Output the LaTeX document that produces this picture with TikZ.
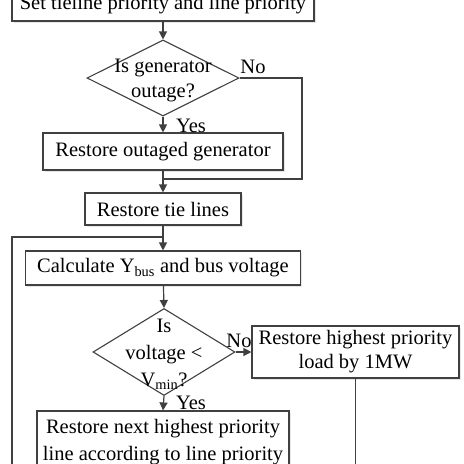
\documentclass[tikz,border=0pt]{standalone}
\usepackage{fontspec}
\setmainfont{Liberation Serif}
\usetikzlibrary{arrows.meta,positioning,calc,shapes.geometric,shadows}
\definecolor{ln}{HTML}{404040}
\tikzset{
  proc/.style={rectangle,draw=ln,line width=1.1pt,fill=white,inner sep=2pt,
               align=center,font=\fontsize{20.5}{26}\selectfont,
               drop shadow={opacity=0.2,shadow xshift=1.5pt,shadow yshift=-1.5pt}},
  dec/.style={diamond,draw=ln,line width=1.1pt,fill=white,inner sep=0pt},
  dtext/.style={align=center,font=\fontsize{20.5}{25}\selectfont,inner sep=0pt},
  lbl/.style={font=\fontsize{20.5}{25}\selectfont,inner sep=0pt},
  flow/.style={draw=ln,line width=1.2pt,-{Triangle[length=8pt,width=8pt]}},
  wire/.style={draw=ln,line width=1.2pt},
  every picture/.style={line cap=butt,line join=miter}}

\begin{document}
\begin{tikzpicture}[x=1pt,y=-1pt]
  \useasboundingbox (0,0) rectangle (464,464);
  % boxes and decisions
  \node[proc,minimum width=302pt,minimum height=33pt] (prio) at (163,4.5)
    {Set tieline priority and line priority};
  \node[dec,minimum width=152pt,minimum height=76pt,
        label={[dtext,yshift=-2pt]center:Is generator\\outage?}] (gen) at (163,78) {};
  \node[proc,minimum width=240pt,minimum height=37pt] (rgen) at (163,151.5)
    {Restore outaged generator};
  \node[proc,minimum width=156pt,minimum height=32pt] (tie) at (163,209)
    {Restore tie lines};
  \node[proc,minimum width=275pt,minimum height=34pt] (ybus) at (163,268)
    {Calculate Y\textsubscript{bus} and bus voltage};
  \node[dec,minimum width=142pt,minimum height=87pt,
        label={[dtext,font=\fontsize{20.5}{27}\selectfont,yshift=-2pt]center:Is\\voltage <\\V\textsubscript{min}?}] (volt) at (164,352) {};
  \node[proc,minimum width=207pt,minimum height=52pt,
        font=\fontsize{20.5}{24}\selectfont] (load) at (355.5,352)
    {Restore highest priority\\load by 1MW};
  \node[proc,minimum width=252pt,minimum height=62pt,
        font=\fontsize{20.5}{27}\selectfont] (line) at (163,442)
    {Restore next highest priority\\line according to line priority};
  % labels
  \node[lbl] (no1) at (253,67) {No};
  \node[lbl] (yes1) at (191,126) {Yes};
  \node[lbl] (no2) at (239,341) {No};
  \node[lbl] (yes2) at (191,403) {Yes};
  % connectors
  \coordinate (skip) at (302,179);
  \coordinate (loop) at (12,237);
  \coordinate (back) at (12,480);
  \draw[flow] (prio) -- (gen);
  \draw[flow] (gen.south) -- (rgen.north);
  \draw[flow] (rgen) -- (tie);
  \draw[wire] (gen.east) -| (skip) -- (skip -| rgen.south);
  \draw[flow] (tie) -- (ybus);
  \draw[wire] (back) -- (loop) -- (loop -| ybus.north);
  \draw[flow] (ybus) -- (volt.north);
  \draw[flow] (volt.east) -- (load.west);
  \draw[flow] (volt.south) -- (line.north);
  \draw[wire] (load.south) -- (load.south |- back);
\end{tikzpicture}
\end{document}
